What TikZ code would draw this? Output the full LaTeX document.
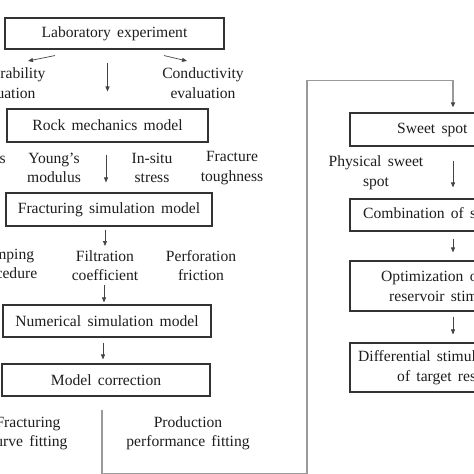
\documentclass[tikz,border=0pt]{standalone}
\usepackage{fontspec}
\setmainfont{Liberation Serif}[WordSpace=1.6]
\usetikzlibrary{arrows.meta,calc}
\definecolor{boxc}{HTML}{333333}
\definecolor{arrc}{HTML}{444444}
\definecolor{loopc}{HTML}{9A9A9A}
\definecolor{txtc}{HTML}{1E1E1E}
\begin{document}
\begin{tikzpicture}[x=1bp,y=-1bp,
  every node/.style={font=\fontsize{15.6bp}{19.5bp}\selectfont, text=txtc, inner sep=0pt},
  box/.style={draw=boxc, line width=1.1bp, minimum height=32bp},
  lbl/.style={align=center},
  arr/.style={draw=arrc, line width=0.7bp, -{Triangle[length=5bp,width=4bp]}},
  loopline/.style={draw=loopc, line width=1.4bp, -{Triangle[length=5bp,width=4bp,color=arrc]}}]
\useasboundingbox (0,0) rectangle (474,474);
\fill[white] (0,0) rectangle (474,474);
\clip (0,0) rectangle (474,474);
% left column
\node[box, minimum width=219bp, minimum height=31bp] (lab) at (114.5,33.5) {Laboratory experiment};
\node[lbl] (fracab) at (3,83) {Fracturability\\evaluation};
\node[lbl] (cond) at (203,83) {Conductivity\\evaluation};
\node[box, minimum width=201bp, minimum height=33bp] (rock) at (107.5,125.5) {Rock mechanics model};
\node[anchor=east] (pois) at (6,158) {Poisson’s};
\node[lbl] (young) at (54,168) {Young’s\\modulus};
\node[lbl] (insitu) at (152,168) {In-situ\\stress};
\node[lbl] (tough) at (232,168) {Fracture\\toughness};
\node[box, minimum width=206bp, minimum height=33bp] (fsim) at (109,209.5) {Fracturing simulation model};
\node[lbl] (pump) at (6,265.5) {Pumping\\procedure};
\node[lbl] (filt) at (105,265.5) {Filtration\\coefficient};
\node[lbl] (perf) at (201,265.5) {Perforation\\friction};
\node[box, minimum width=208bp, minimum height=32bp] (num) at (107,321) {Numerical simulation model};
\node[box, minimum width=208bp, minimum height=32bp] (corr) at (106,380) {Model correction};
\node[lbl] (fcurve) at (28,433.5) {Fracturing\\curve fitting};
\node[lbl] (prod) at (188,433.5) {Production\\performance fitting};
% right column
\node[box, minimum width=206bp, minimum height=33bp] (sweet) at (453,129.5) {};
\node[anchor=west] (sweett) at (397,130) {Sweet spot selection};
\node[lbl] (phys) at (376,172.5) {Physical sweet\\spot};
\node[box, minimum width=206bp, minimum height=32bp] (comb) at (453,215) {};
\node[anchor=west] (combt) at (363,215) {Combination of sweet spots};
\node[box, minimum width=206bp, minimum height=50bp] (opt) at (453,286) {};
\node[anchor=west, align=left] (optt) at (381,286) {Optimization of\\\hspace*{8bp}reservoir stimulation};
\node[box, minimum width=206bp, minimum height=49bp] (diff) at (453,367.5) {};
\node[anchor=west, align=left] (difft) at (358,367.5) {Differential stimulation\\\hspace*{39bp}of target reservoir};
% connectors
\draw[arr] ($(lab.south -| rock.north)+(0,13)$) -- ($(rock.north)+(0,-17)$);
\draw[arr] ($(lab.south)+(-59.5,6)$) -- ($(fracab)+(25,-22)$);
\draw[arr] ($(lab.south)+(49.5,6)$) -- ($(cond)+(-16,-22)$);
\draw[arr] ($(rock.south)+(-1.5,12)$) -- ($(fsim.north)+(-3,-10)$);
\draw[arr] ($(fsim.south)+(-4,3)$) -- ($(filt)+(0,-19.5)$);
\draw[arr] ($(filt)+(-1,19.5)$) -- ($(num.north)+(-3,-2)$);
\draw[arr] ($(num.south)+(-4,5)$) -- ($(corr.north)+(-3,-4)$);
\draw[loopline] ($(corr.south)+(-4,13)$) -- ++(0,64) -- ++(205,0) |- ($(sweet.north)+(0,-32)$) -- ($(sweet.north)+(0,-5)$);
\draw[arr] ($(sweet.south)+(0,14)$) -- ($(comb.north)+(0,-11)$);
\draw[arr] ($(comb.south)+(0,7)$) -- ($(opt.north)+(0,-8)$);
\draw[arr] ($(opt.south)+(0,5)$) -- ($(diff.north)+(0,-8)$);
\end{tikzpicture}
\end{document}
